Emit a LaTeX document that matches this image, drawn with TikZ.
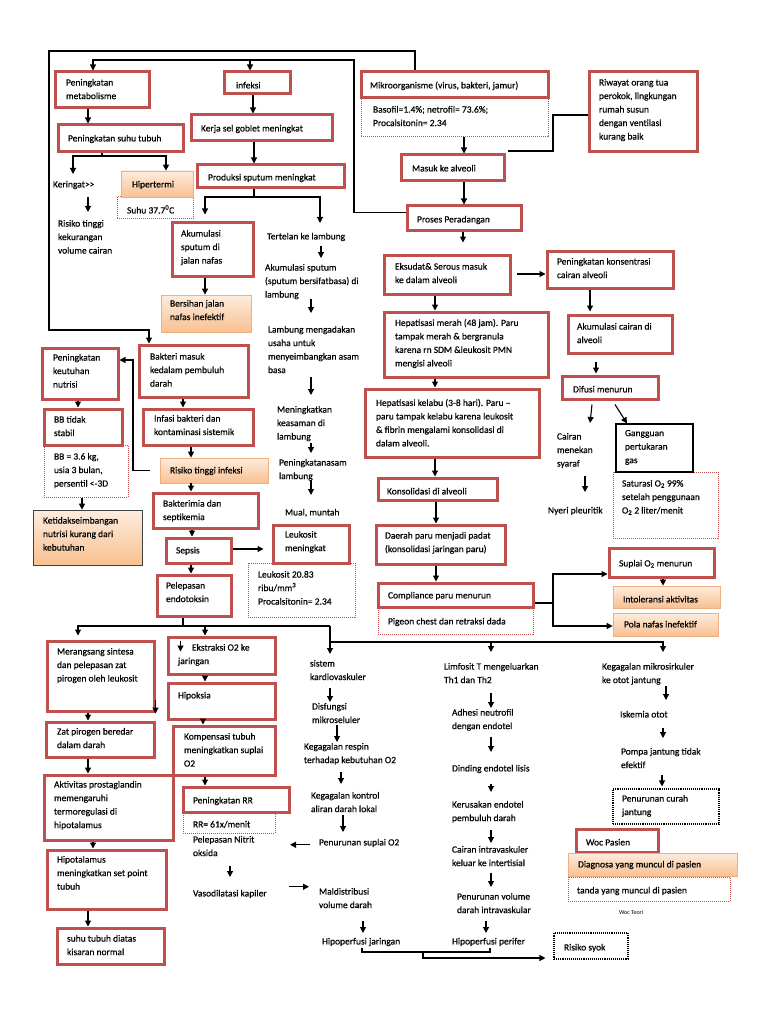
\documentclass[tikz,border=0pt]{standalone}
\usepackage{fontspec}
\setmainfont{Carlito}[BoldFont=Carlito,BoldFeatures={FakeBold=0.4}]
\usetikzlibrary{arrows.meta}
\definecolor{wred}{RGB}{192,80,77}
\definecolor{otop}{RGB}{253,236,222}
\definecolor{obot}{RGB}{249,192,145}
\definecolor{oedge}{RGB}{240,175,130}
\newcommand\wocfont{\fontsize{9.5}{13.5}\selectfont\bfseries}
\newcommand\bx[6]{\node[#6, minimum width={#4-#2}, minimum height={#5-#3}, inner sep=0pt] (#1) at ({(#2+#4)/2},{(#3+#5)/2}) {};}
\newcommand\tx[4]{\node[txt] (#1) at (#2,{#3-4}) {#4};}
\newcommand\va[5]{\draw[arr] ([yshift={-1pt*(#4)}]#1.south -| #3,0) -- ([yshift={1pt*(#5)}]#2.north -| #3,0);}
\begin{document}
\begin{tikzpicture}[x=1pt,y=-1pt,font=\wocfont,
 rb/.style={draw=wred,line width=3pt},
 db/.style={draw=wred,densely dotted,line width=1pt},
 kb/.style={draw=black,densely dotted,line width=1.1pt},
 gb/.style={draw=black,line width=1.1pt},
 ob/.style={draw=oedge,line width=0.7pt,top color=otop,bottom color=obot},
 txt/.style={inner sep=0pt,outer sep=0pt,align=left,anchor=north west,execute at begin node=\strut,execute at end node=\strut},
 ln/.style={draw=black,line width=1.1pt},
 arr/.style={ln,-{Triangle[length=6pt,width=6pt]}}]
\useasboundingbox (0,0) rectangle (768,1024);
\fill[white] (0,0) rectangle (768,1024);
% dotted boxes
\bx{mikd}{361}{98}{548}{137}{db}
\bx{suh}{117}{197}{193}{219}{db}
\bx{bbd}{44}{445}{128}{497}{db}
\bx{lkd}{248}{563}{355}{617}{db}
\bx{pcd}{378}{607}{533}{634}{db}
\bx{rrd}{183}{812}{275}{833}{db}
\bx{tnd}{568}{877}{730}{901}{db}
\bx{sat}{613}{472}{718}{538}{db}
\bx{pcj}{613}{789}{719}{824}{kb}
\bx{rsy}{554}{933}{628}{959}{kb}
\bx{gpg}{616}{424}{693}{472}{gb}
% red boxes
\bx{pm}{55}{72}{149}{108}{rb}
\bx{inf}{224}{72}{290}{94}{rb}
\bx{pst}{58}{125}{183}{152}{rb}
\bx{ksg}{191}{115}{332}{141}{rb}
\bx{psm}{197}{165}{344}{188}{rb}
\bx{mik}{361}{72}{548}{98}{rb}
\bx{riw}{589}{72}{697}{152}{rb}
\bx{mka}{401}{155}{504}{181}{rb}
\bx{ppr}{407}{206}{521}{231}{rb}
\bx{eks}{384}{255}{510}{294}{rb}
\bx{pkc}{547}{251}{673}{288}{rb}
\bx{asj}{172}{223}{253}{276}{rb}
\bx{hm}{384}{312}{548}{377}{rb}
\bx{hk}{365}{389}{539}{457}{rb}
\bx{aca}{568}{315}{672}{353}{rb}
\bx{dfm}{562}{376}{658}{399}{rb}
\bx{bmp}{139}{345}{248}{397}{rb}
\bx{pkn}{42}{348}{118}{399}{rb}
\bx{bbt}{44}{409}{122}{445}{rb}
\bx{ibk}{143}{409}{253}{445}{rb}
\bx{bds}{153}{493}{258}{528}{rb}
\bx{kda}{378}{478}{497}{500}{rb}
\bx{dpp}{376}{525}{505}{564}{rb}
\bx{cpm}{378}{583}{533}{607}{rb}
\bx{sep}{166}{538}{231}{563}{rb}
\bx{lkm}{273}{525}{349}{563}{rb}
\bx{pen}{157}{575}{231}{616}{rb}
\bx{so2}{609}{548}{714}{577}{rb}
\bx{mss}{47}{641}{154}{711}{rb}
\bx{eo2}{168}{637}{275}{674}{rb}
\bx{hip}{168}{683}{275}{719}{rb}
\bx{kmp}{173}{726}{275}{775}{rb}
\bx{zpb}{46}{722}{154}{757}{rb}
\bx{apg}{44}{775}{173}{840}{rb}
\bx{hpt}{47}{850}{166}{909}{rb}
\bx{stn}{57}{928}{164}{964}{rb}
\bx{prr}{183}{787}{289}{812}{rb}
\bx{woc}{576}{829}{658}{852}{rb}
% orange boxes
\bx{hpm}{121}{171}{193}{197}{ob}
\bx{bjn}{161}{295}{251}{332}{ob}
\bx{rti}{160}{458}{268}{483}{ob}
\bx{kns}{33}{510}{142}{565}{ob,draw=black!75}
\bx{ita}{613}{586}{720}{608}{ob}
\bx{pni}{613}{613}{718}{636}{ob}
\bx{dgn}{568}{853}{737}{876}{ob}
% texts
\tx{t_pm}{66}{83}{Peningkatan\\metabolisme}
\tx{t_inf}{236}{83}{infeksi}
\tx{t_pst}{68}{136}{Peningkatan suhu tubuh}
\tx{t_ksg}{201}{126}{Kerja sel goblet meningkat}
\tx{t_psm}{208}{175}{Produksi sputum meningkat}
\tx{t_ker}{53}{182}{Keringat>{}>}
\tx{t_hpm}{132}{182}{Hipertermi}
\tx{t_suh}{127}{208}{Suhu 37.7\textsuperscript{0}C}
\tx{t_rtk}{58}{224}{Risiko tinggi\\kekurangan\\volume cairan}
\tx{t_asj}{181}{234}{Akumulasi\\sputum di\\jalan nafas}
\tx{t_tkl}{267}{234}{Tertelan ke lambung}
\tx{t_asl}{265}{268}{Akumulasi sputum\\(sputum bersifatbasa) di\\lambung}
\tx{t_mik}{370}{83}{Mikroorganisme (virus, bakteri, jamur)}
\tx{t_bas}{373}{110}{Basofil=1.4\%; netrofil= 73.6\%;\\Procalsitonin= 2.34}
\tx{t_riw}{599}{83}{Riwayat orang tua\\perokok, lingkungan\\rumah susun\\dengan ventilasi\\kurang baik}
\tx{t_mka}{412}{166}{Masuk ke alveoli}
\tx{t_ppr}{417}{217}{Proses Peradangan}
\tx{t_eks}{395}{267}{Eksudat\& Serous masuk\\ke dalam alveoli}
\tx{t_pkc}{557}{262}{Peningkatan konsentrasi\\cairan alveoli}
\tx{t_bjn}{170}{304}{Bersihan jalan\\nafas inefektif}
\tx{t_lmu}{268}{330}{Lambung mengadakan\\usaha untuk\\menyeimbangkan asam\\basa}
\tx{t_hm}{395}{323}{Hepatisasi merah (48 jam). Paru\\tampak merah \& bergranula\\karena rn SDM \&leukosit PMN\\mengisi alveoli}
\tx{t_aca}{577}{327}{Akumulasi cairan di\\alveoli}
\tx{t_dfm}{573}{387}{Difusi menurun}
\tx{t_bmp}{150}{357}{Bakteri masuk\\kedalam pembuluh\\darah}
\tx{t_pkn}{53}{358}{Peningkatan\\keutuhan\\nutrisi}
\tx{t_hk}{376}{403}{Hepatisasi kelabu (3-8 hari). Paru --\\paru tampak kelabu karena leukosit\\\& fibrin mengalami konsolidasi di\\dalam alveoli.}
\tx{t_mkl}{277}{410}{Meningkatkan\\keasaman di\\lambung}
\tx{t_bbt}{54}{420}{BB tidak\\stabil}
\tx{t_ibk}{154}{419}{Infasi bakteri dan\\kontaminasi sistemik}
\tx{t_cms}{557}{437}{Cairan\\menekan\\syaraf}
\tx{t_gpg}{625}{434}{Gangguan\\pertukaran\\gas}
\tx{t_bbd}{54}{457}{BB = 3.6 kg,\\usia 3 bulan,\\persentil <-3D}
\tx{t_pal}{279}{463}{Peningkatanasam\\lambung}
\tx{t_rti}{170}{468}{Risiko tinggi infeksi}
\tx{t_sat}{622}{484}{Saturasi O\textsubscript{2} 99\%\\setelah penggunaan\\O\textsubscript{2} 2 liter/menit}
\tx{t_kda}{387}{489}{Konsolidasi di alveoli}
\tx{t_bds}{163}{504}{Bakterimia dan\\septikemia}
\tx{t_npl}{548}{508}{Nyeri pleuritik}
\tx{t_mmu}{285}{510}{Mual, muntah}
\tx{t_kns}{43}{521}{Ketidakseimbangan\\nutrisi kurang dari\\kebutuhan}
\tx{t_lkm}{285}{535}{Leukosit\\meningkat}
\tx{t_dpp}{385}{536}{Daerah paru menjadi padat\\(konsolidasi jaringan paru)}
\tx{t_sep}{176}{548}{Sepsis}
\tx{t_so2}{619}{561}{Suplai O\textsubscript{2} menurun}
\tx{t_lkd}{258}{575}{Leukosit 20.83\\ribu/mm\textsuperscript{3}\\Procalsitonin= 2.34}
\tx{t_pen}{166}{586}{Pelepasan\\endotoksin}
\tx{t_cpm}{388}{593}{Compliance paru menurun}
\tx{t_ita}{623}{597}{Intoleransi aktivitas}
\tx{t_pcd}{388}{619}{Pigeon chest dan retraksi dada}
\tx{t_pni}{624}{622}{Pola nafas inefektif}
\tx{t_mss}{57}{652}{Merangsang sintesa\\dan pelepasan zat\\pirogen oleh leukosit}
\tx{t_eo2}{178}{648}{\hspace{14pt}Ekstraksi O2 ke\\jaringan}
\tx{t_hip}{178}{693}{Hipoksia}
\tx{t_skv}{310}{664}{sistem\\kardiovaskuler}
\tx{t_lim}{444}{667}{Limfosit T mengeluarkan\\Th1 dan Th2}
\tx{t_kmo}{602}{667}{Kegagalan mikrosirkuler\\ke otot jantung}
\tx{t_dfs}{312}{707}{Disfungsi\\mikroseluler}
\tx{t_isk}{620}{712}{Iskemia otot}
\tx{t_adh}{452}{713}{Adhesi neutrofil\\dengan endotel}
\tx{t_zpb}{57}{732}{Zat pirogen beredar\\dalam darah}
\tx{t_kmp}{184}{737}{Kompensasi tubuh\\meningkatkan suplai\\O2}
\tx{t_krs}{304}{747}{Kegagalan respin\\terhadap kebutuhan O2}
\tx{t_pjt}{621}{752}{Pompa jantung tidak\\efektif}
\tx{t_del}{452}{766}{Dinding endotel lisis}
\tx{t_apg}{54}{785}{Aktivitas prostaglandin\\memengaruhi\\termoregulasi di\\hipotalamus}
\tx{t_kkl}{311}{796}{Kegagalan kontrol\\aliran darah lokal}
\tx{t_prr}{193}{798}{Peningkatan RR}
\tx{t_pcj}{622}{799}{Penurunan curah\\jantung}
\tx{t_ked}{452}{805}{Kerusakan endotel\\pembuluh darah}
\tx{t_rrd}{193}{822}{RR= 61x/menit}
\tx{t_woc}{586}{840}{Woc Pasien}
\tx{t_pnt}{193}{840}{Pelepasan Nitrit\\oksida}
\tx{t_pso}{319}{840}{Penurunan suplai O2}
\tx{t_cik}{452}{850}{Cairan intravaskuler\\keluar ke intertisial}
\tx{t_hpt}{57}{860}{Hipotalamus\\meningkatkan set point\\tubuh}
\tx{t_dgn}{578}{862}{Diagnosa yang muncul di pasien}
\tx{t_tnd}{577}{888}{tanda yang muncul di pasien}
\tx{t_pvd}{457}{897}{Penurunan volume\\darah intravaskular}
\tx{t_vdk}{193}{891}{Vasodilatasi kapiler}
\tx{t_mdv}{319}{892}{Maldistribusi\\volume darah}
\node[txt,font=\fontsize{6}{7}\selectfont] (t_wct) at (619,910) {Woc Teori};
\tx{t_hjr}{322}{939}{Hipoperfusi jaringan}
\tx{t_hpf}{452}{939}{Hipoperfusi perifer}
\tx{t_std}{67}{939}{suhu tubuh diatas\\kisaran normal}
\tx{t_rsy}{564}{945}{Risiko syok}
% connectors
\draw[arr] (mik.north -| 415,0) |- (49,51) |- (149,330) -- (bmp.north -| 149,0);
\draw[arr] ([yshift=6pt]ppr.west) -| (354,60) -| (pm.north -| 93,0);
\draw[arr] (250,60) -- (inf.north -| 250,0);
\va{pm}{pst}{88}{0}{0}
\va{inf}{ksg}{253}{0}{0}
\va{ksg}{psm}{254}{0}{0}
\draw[arr] (pst.south -| 102,0) |- (73,156) -- ([yshift=4pt]t_ker.north -| 73,0);
\draw[arr] (102,156) -| (hpm.north -| 166,0);
\va{t_ker}{t_rtk}{88}{6}{8}
\draw[arr] (psm.south -| 254,0) |- (205,197) -- ([yshift=7pt]asj.north -| 205,0);
\draw[arr] (254,197) -| ([yshift=7pt]t_tkl.north -| 320,0);
\va{t_tkl}{t_asl}{321}{2}{6}
\va{t_asl}{t_lmu}{311}{-3}{13}
\va{t_lmu}{t_mkl}{311}{0}{11}
\va{t_mkl}{t_pal}{311}{-1}{6}
\va{t_pal}{t_mmu}{311}{-3}{11}
\va{asj}{bjn}{205}{0}{0}
\va{mikd}{mka}{464}{0}{0}
\draw[ln] ([yshift=-3pt]riw.west) -| (553,151) -- (508,151);
\va{mka}{ppr}{464}{0}{0}
\va{ppr}{eks}{463}{0}{11}
\draw[arr] ([xshift=5pt]eks.east |- 0,274) -- (pkc.west |- 0,274);
\va{pkc}{aca}{590}{0}{2}
\va{aca}{dfm}{596}{7}{1}
\draw[arr] ([yshift=-4pt]dfm.south -| 592,0) -- ([yshift=10pt]t_cms.north -| 590,0);
\draw[arr] ([yshift=-4pt]dfm.south -| 615,0) -- (gpg.north -| 627,0);
\va{t_cms}{t_npl}{585}{5}{12}
\va{eks}{hm}{435}{0}{0}
\va{hm}{hk}{435}{0}{0}
\va{hk}{kda}{435}{0}{0}
\va{kda}{dpp}{436}{0}{0}
\va{dpp}{cpm}{436}{0}{0}
\draw[ln] ([yshift=-8pt]cpm.east) -- (553,603);
\draw[arr] (553,603) |- (so2.west |- 0,574);
\draw[arr] (553,603) |- (pni.west |- 0,626);
\va{so2}{ita}{663}{0}{0}
\draw[arr] ([xshift=-10pt]rti.west) -| (133,360) -- (pkn.east |- 0,360);
\va{pkn}{bbt}{78}{0}{0}
\va{bmp}{ibk}{183}{0}{0}
\va{ibk}{rti}{191}{0}{0}
\va{rti}{bds}{191}{0}{0}
\va{bbd}{kns}{82}{0}{0}
\va{bds}{sep}{192}{0}{0}
\draw[arr] (sep.east |- 0,549) -- ([xshift=-8pt]lkm.west |- 0,549);
\va{sep}{pen}{191}{0}{0}
\draw[ln] (pen.south -| 183,0) -- (183,626);
\draw[arr] (330,626) -| ([yshift=4pt]mss.north -| 78,0);
\draw[arr] (205,626) -- (eo2.north -| 205,0);
\draw[arr] (330,626) -- ([yshift=6pt]t_skv.north -| 330,0);
\draw[arr] (330,642) -| ([yshift=11pt]t_kmo.north -| 663,0);
\draw[arr] (491,642) -- ([yshift=11pt]t_lim.north -| 491,0);
\draw[arr] ([yshift=13pt]mss.south east) -- ([yshift=-1pt]mss.south east);
\draw[arr] ([xshift=14pt,yshift=-5pt]eo2.north west) -- ([xshift=14pt,yshift=-16pt]eo2.north west);
\va{mss}{zpb}{88}{0}{0}
\va{eo2}{hip}{205}{0}{0}
\va{hip}{kmp}{203}{0}{0}
\va{zpb}{apg}{88}{0}{0}
\va{apg}{hpt}{93}{0}{0}
\va{hpt}{stn}{88}{0}{0}
\va{kmp}{prr}{205}{0}{0}
\draw[arr] ([yshift=-2pt]t_pso.west -| 310,0) -- ([yshift=-2pt]t_pso.west -| 290,0);
\va{t_pnt}{t_vdk}{230}{6}{10}
\draw[arr] ([yshift=7pt]t_vdk.east -| 289,0) -- ([yshift=7pt]t_vdk.east -| 309,0);
\va{t_skv}{t_dfs}{330}{4}{1}
\va{t_dfs}{t_krs}{337}{-2}{1}
\va{t_krs}{t_kkl}{341}{5}{8}
\va{t_kkl}{t_pso}{343}{-1}{4}
\va{t_mdv}{t_hjr}{363}{9}{2}
\va{t_lim}{t_adh}{491}{6}{1}
\va{t_adh}{t_del}{491}{4}{10}
\va{t_del}{t_ked}{491}{8}{9}
\va{t_ked}{t_cik}{491}{5}{3}
\va{t_cik}{t_pvd}{491}{3}{6}
\va{t_pvd}{t_hpf}{486}{4}{2}
\va{t_kmo}{t_isk}{666}{-1}{8}
\va{t_isk}{t_pjt}{663}{6}{10}
\va{t_pjt}{pcj}{662}{3}{2}
\draw[ln] ([yshift=1pt]t_hjr.south -| 362,0) |- (423,952) -| ([yshift=1pt]t_hpf.south -| 490,0);
\draw[arr] (423,952) |- ([xshift=-8pt]rsy.west |- 0,958);
\end{tikzpicture}
\end{document}
